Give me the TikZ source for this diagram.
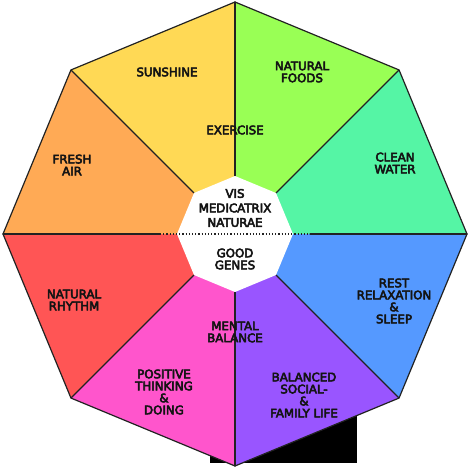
\documentclass[tikz,border=0pt]{standalone}
\usepackage{fontspec}
\newfontfamily\labfont{DejaVu Sans}[FakeBold=4.5]
\definecolor{cyel}{HTML}{FFD955}
\definecolor{cgrn}{HTML}{99FF55}
\definecolor{cmint}{HTML}{55F5A5}
\definecolor{cblu}{HTML}{5599FF}
\definecolor{cpur}{HTML}{9955FF}
\definecolor{cmag}{HTML}{FF55CC}
\definecolor{cred}{HTML}{FF5555}
\definecolor{cora}{HTML}{FFAA55}
\definecolor{cline}{HTML}{222222}
\begin{document}
\begin{tikzpicture}[x=1pt,y=-1pt,
  edge/.style={draw=cline,line width=1.2pt,line join=round,line cap=round},
  lab/.style={font=\labfont\fontsize{11.8}{12}\selectfont,align=center,text=black!92,inner sep=0pt},
  labc/.style={font=\labfont\fontsize{11.8}{14.5}\selectfont,align=center,text=black!92,inner sep=0pt}]
\useasboundingbox (0,0) rectangle (468,468);
% background artefact
\fill[black] (210,400) rectangle (357,463);
% centre and vertices
\coordinate (c) at (235,234);
\coordinate (T) at (235,2);
\coordinate (UR) at (399.05,69.95);
\coordinate (R) at (467,234);
\coordinate (LR) at (399.05,398.05);
\coordinate (B) at (235,466);
\coordinate (LL) at (70.95,398.05);
\coordinate (L) at (3,234);
\coordinate (UL) at (70.95,69.95);
\coordinate (t) at (235,176);
\coordinate (ur) at (276,193);
\coordinate (r) at (293,234);
\coordinate (lr) at (276,275);
\coordinate (b) at (235,292);
\coordinate (ll) at (194,275);
\coordinate (l) at (177,234);
\coordinate (ul) at (194,193);
\coordinate (dl) at (160,234);
\coordinate (dr) at (310,234);
% sectors
\fill[cyel] (c) -- (T) -- (UL) -- cycle;
\fill[cgrn] (c) -- (T) -- (UR) -- cycle;
\fill[cmint] (c) -- (UR) -- (R) -- cycle;
\fill[cblu] (c) -- (R) -- (LR) -- cycle;
\fill[cpur] (c) -- (LR) -- (B) -- cycle;
\fill[cmag] (c) -- (B) -- (LL) -- cycle;
\fill[cred] (c) -- (LL) -- (L) -- cycle;
\fill[cora] (c) -- (L) -- (UL) -- cycle;
% spokes
\draw[edge] (T) -- (t);
\draw[edge] (UR) -- (ur);
\draw[edge] (R) -- (dr);
\draw[edge] (LR) -- (lr);
\draw[edge] (B) -- (b);
\draw[edge] (LL) -- (ll);
\draw[edge] (L) -- (dl);
\draw[edge] (UL) -- (ul);
% outer outline
\draw[edge] (T) -- (UR) -- (R) -- (LR) -- (B) -- (LL) -- (L) -- (UL) -- cycle;
% inner octagon
\fill[white] (t) -- (ur) -- (r) -- (lr) -- (b) -- (ll) -- (l) -- (ul) -- cycle;
\draw[cline,line width=1.2pt,dotted] (dl) -- (dr);
% labels
\node[lab] (sun) at (167,72) {SUNSHINE};
\node[lab] (foods) at (302,72) {NATURAL\\FOODS};
\node[lab] (ex) at (235,130) {EXERCISE};
\node[lab] (air) at (72,165) {FRESH\\AIR};
\node[lab] (water) at (395,163) {CLEAN\\WATER};
\node[lab] (rhythm) at (74,300) {NATURAL\\RHYTHM};
\node[lab] (rest) at (394,301) {REST\\RELAXATION\\\&\\SLEEP};
\node[lab] (pos) at (164,392) {POSITIVE\\THINKING\\\&\\DOING};
\node[lab] (mental) at (235,332) {MENTAL\\BALANCE};
\node[lab] (social) at (304,395) {BALANCED\\SOCIAL-\\\&\\FAMILY LIFE};
\node[labc] (vis) at (235,208) {VIS\\MEDICATRIX\\NATURAE};
\node[lab] (genes) at (235,259) {GOOD\\GENES};
\end{tikzpicture}
\end{document}
